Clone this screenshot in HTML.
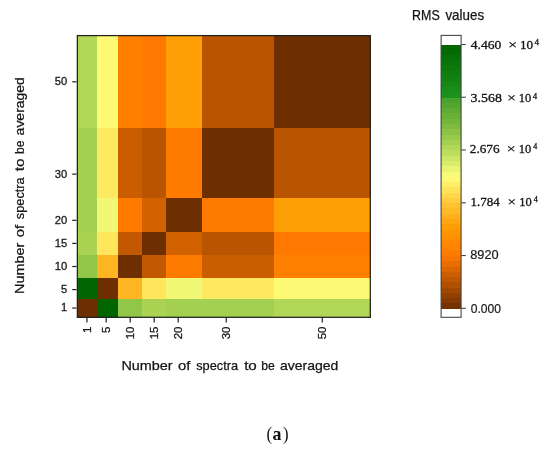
<!DOCTYPE html>
<html><head><meta charset="utf-8"><title>RMS heatmap</title>
<style>html,body{margin:0;padding:0;background:#fff}svg{display:block}</style></head>
<body>
<svg width="550" height="451" viewBox="0 0 550 451">
<rect width="550" height="451" fill="#fff"/>
<g shape-rendering="crispEdges">
<rect x="77.35" y="298.83" width="19.51" height="18.77" fill="#6d2e00"/>
<rect x="77.35" y="278.05" width="19.51" height="21.08" fill="#006400"/>
<rect x="77.35" y="254.96" width="19.51" height="23.39" fill="#91c648"/>
<rect x="77.35" y="231.87" width="19.51" height="23.39" fill="#aad354"/>
<rect x="77.35" y="197.23" width="19.51" height="34.94" fill="#a3d051"/>
<rect x="77.35" y="127.96" width="19.51" height="69.57" fill="#a3d051"/>
<rect x="77.35" y="35.60" width="19.51" height="92.66" fill="#b0d757"/>
<rect x="96.56" y="298.83" width="21.91" height="18.77" fill="#006400"/>
<rect x="96.56" y="278.05" width="21.91" height="21.08" fill="#6d2e00"/>
<rect x="96.56" y="254.96" width="21.91" height="23.39" fill="#ffb522"/>
<rect x="96.56" y="231.87" width="21.91" height="23.39" fill="#ffe65d"/>
<rect x="96.56" y="197.23" width="21.91" height="34.94" fill="#f0f875"/>
<rect x="96.56" y="127.96" width="21.91" height="69.57" fill="#ffe961"/>
<rect x="96.56" y="35.60" width="21.91" height="92.66" fill="#fffa75"/>
<rect x="118.17" y="298.83" width="24.31" height="18.77" fill="#91c648"/>
<rect x="118.17" y="278.05" width="24.31" height="21.08" fill="#ffb522"/>
<rect x="118.17" y="254.96" width="24.31" height="23.39" fill="#6d2e00"/>
<rect x="118.17" y="231.87" width="24.31" height="23.39" fill="#c25900"/>
<rect x="118.17" y="197.23" width="24.31" height="34.94" fill="#ff7b00"/>
<rect x="118.17" y="127.96" width="24.31" height="69.57" fill="#ca5d00"/>
<rect x="118.17" y="35.60" width="24.31" height="92.66" fill="#ff8000"/>
<rect x="142.18" y="298.83" width="24.31" height="18.77" fill="#aad354"/>
<rect x="142.18" y="278.05" width="24.31" height="21.08" fill="#ffe65d"/>
<rect x="142.18" y="254.96" width="24.31" height="23.39" fill="#c25900"/>
<rect x="142.18" y="231.87" width="24.31" height="23.39" fill="#6d2e00"/>
<rect x="142.18" y="197.23" width="24.31" height="34.94" fill="#d26100"/>
<rect x="142.18" y="127.96" width="24.31" height="69.57" fill="#b95400"/>
<rect x="142.18" y="35.60" width="24.31" height="92.66" fill="#ff7800"/>
<rect x="166.20" y="298.83" width="36.32" height="18.77" fill="#a3d051"/>
<rect x="166.20" y="278.05" width="36.32" height="21.08" fill="#f0f875"/>
<rect x="166.20" y="254.96" width="36.32" height="23.39" fill="#ff7b00"/>
<rect x="166.20" y="231.87" width="36.32" height="23.39" fill="#d26100"/>
<rect x="166.20" y="197.23" width="36.32" height="34.94" fill="#6d2e00"/>
<rect x="166.20" y="127.96" width="36.32" height="69.57" fill="#ff7b00"/>
<rect x="166.20" y="35.60" width="36.32" height="92.66" fill="#ff9f08"/>
<rect x="202.21" y="298.83" width="72.34" height="18.77" fill="#a3d051"/>
<rect x="202.21" y="278.05" width="72.34" height="21.08" fill="#ffe961"/>
<rect x="202.21" y="254.96" width="72.34" height="23.39" fill="#ca5d00"/>
<rect x="202.21" y="231.87" width="72.34" height="23.39" fill="#b95400"/>
<rect x="202.21" y="197.23" width="72.34" height="34.94" fill="#ff7b00"/>
<rect x="202.21" y="127.96" width="72.34" height="69.57" fill="#6d2e00"/>
<rect x="202.21" y="35.60" width="72.34" height="92.66" fill="#b95400"/>
<rect x="274.25" y="298.83" width="96.35" height="18.77" fill="#b0d757"/>
<rect x="274.25" y="278.05" width="96.35" height="21.08" fill="#fffa75"/>
<rect x="274.25" y="254.96" width="96.35" height="23.39" fill="#ff8000"/>
<rect x="274.25" y="231.87" width="96.35" height="23.39" fill="#ff7800"/>
<rect x="274.25" y="197.23" width="96.35" height="34.94" fill="#ff9f08"/>
<rect x="274.25" y="127.96" width="96.35" height="69.57" fill="#b95400"/>
<rect x="274.25" y="35.60" width="96.35" height="92.66" fill="#6d2e00"/>
</g>
<rect x="77.35" y="35.60" width="292.95" height="281.70" fill="none" stroke="#222" stroke-width="1.25"/>
<g stroke="#222" stroke-width="1.2">
<line x1="86.95" y1="317.9" x2="86.95" y2="322.5"/>
<line x1="72.2" y1="308.06" x2="76.5" y2="308.06"/>
<line x1="106.16" y1="317.9" x2="106.16" y2="322.5"/>
<line x1="72.2" y1="289.59" x2="76.5" y2="289.59"/>
<line x1="130.18" y1="317.9" x2="130.18" y2="322.5"/>
<line x1="72.2" y1="266.50" x2="76.5" y2="266.50"/>
<line x1="154.19" y1="317.9" x2="154.19" y2="322.5"/>
<line x1="72.2" y1="243.41" x2="76.5" y2="243.41"/>
<line x1="178.20" y1="317.9" x2="178.20" y2="322.5"/>
<line x1="72.2" y1="220.32" x2="76.5" y2="220.32"/>
<line x1="226.23" y1="317.9" x2="226.23" y2="322.5"/>
<line x1="72.2" y1="174.14" x2="76.5" y2="174.14"/>
<line x1="322.28" y1="317.9" x2="322.28" y2="322.5"/>
<line x1="72.2" y1="81.78" x2="76.5" y2="81.78"/>
</g>
<g font-family="'Liberation Sans', Arial, sans-serif" font-size="11.2" fill="#1a1a1a" stroke="#1a1a1a" stroke-width="0.3">
<text x="67.3" y="311.46" text-anchor="end">1</text>
<text transform="translate(90.85,326.5) rotate(-90)" text-anchor="end" font-size="11.5">1</text>
<text x="67.3" y="292.99" text-anchor="end">5</text>
<text transform="translate(110.06,326.5) rotate(-90)" text-anchor="end" font-size="11.5">5</text>
<text x="67.3" y="269.90" text-anchor="end">10</text>
<text transform="translate(134.08,326.5) rotate(-90)" text-anchor="end" font-size="11.5">10</text>
<text x="67.3" y="246.81" text-anchor="end">15</text>
<text transform="translate(158.09,326.5) rotate(-90)" text-anchor="end" font-size="11.5">15</text>
<text x="67.3" y="223.72" text-anchor="end">20</text>
<text transform="translate(182.10,326.5) rotate(-90)" text-anchor="end" font-size="11.5">20</text>
<text x="67.3" y="177.54" text-anchor="end">30</text>
<text transform="translate(230.13,326.5) rotate(-90)" text-anchor="end" font-size="11.5">30</text>
<text x="67.3" y="85.18" text-anchor="end">50</text>
<text transform="translate(326.18,326.5) rotate(-90)" text-anchor="end" font-size="11.5">50</text>
</g>
<g font-family="'Liberation Sans', Arial, sans-serif" font-size="13.2" fill="#141414" stroke="#141414" stroke-width="0.25">
<text x="121.42" y="369.5" textLength="51.22" lengthAdjust="spacingAndGlyphs">Number</text>
<text x="178.08" y="369.5" textLength="12.40" lengthAdjust="spacingAndGlyphs">of</text>
<text x="196.24" y="369.5" textLength="41.86" lengthAdjust="spacingAndGlyphs">spectra</text>
<text x="244.17" y="369.5" textLength="12.67" lengthAdjust="spacingAndGlyphs">to</text>
<text x="261.32" y="369.5" textLength="13.52" lengthAdjust="spacingAndGlyphs">be</text>
<text x="280.01" y="369.5" textLength="58.29" lengthAdjust="spacingAndGlyphs">averaged</text>
<text transform="translate(23.6,293.98) rotate(-90)" textLength="51.22" lengthAdjust="spacingAndGlyphs">Number</text>
<text transform="translate(23.6,237.32) rotate(-90)" textLength="12.40" lengthAdjust="spacingAndGlyphs">of</text>
<text transform="translate(23.6,219.16) rotate(-90)" textLength="41.86" lengthAdjust="spacingAndGlyphs">spectra</text>
<text transform="translate(23.6,171.23) rotate(-90)" textLength="12.67" lengthAdjust="spacingAndGlyphs">to</text>
<text transform="translate(23.6,154.08) rotate(-90)" textLength="13.52" lengthAdjust="spacingAndGlyphs">be</text>
<text transform="translate(23.6,135.39) rotate(-90)" textLength="58.29" lengthAdjust="spacingAndGlyphs">averaged</text>
<text x="412.08" y="19.8" font-size="13.8" textLength="27.69" lengthAdjust="spacingAndGlyphs">RMS</text>
<text x="445.45" y="19.8" font-size="13.8" textLength="38.63" lengthAdjust="spacingAndGlyphs">values</text>
</g>
<g shape-rendering="crispEdges">
<rect x="441" y="303.02" width="20.2" height="5.68" fill="#743200"/>
<rect x="441" y="297.75" width="20.2" height="5.68" fill="#833900"/>
<rect x="441" y="292.47" width="20.2" height="5.68" fill="#924000"/>
<rect x="441" y="287.20" width="20.2" height="5.68" fill="#a04800"/>
<rect x="441" y="281.92" width="20.2" height="5.68" fill="#af4f00"/>
<rect x="441" y="276.64" width="20.2" height="5.68" fill="#bd5700"/>
<rect x="441" y="271.37" width="20.2" height="5.68" fill="#cc5e00"/>
<rect x="441" y="266.09" width="20.2" height="5.68" fill="#da6600"/>
<rect x="441" y="260.82" width="20.2" height="5.68" fill="#e96d00"/>
<rect x="441" y="255.54" width="20.2" height="5.68" fill="#f87400"/>
<rect x="441" y="250.26" width="20.2" height="5.68" fill="#ff7b00"/>
<rect x="441" y="244.99" width="20.2" height="5.68" fill="#ff8200"/>
<rect x="441" y="239.71" width="20.2" height="5.68" fill="#ff8800"/>
<rect x="441" y="234.44" width="20.2" height="5.68" fill="#ff8e00"/>
<rect x="441" y="229.16" width="20.2" height="5.68" fill="#ff9500"/>
<rect x="441" y="223.88" width="20.2" height="5.68" fill="#ff9d06"/>
<rect x="441" y="218.61" width="20.2" height="5.68" fill="#ffa611"/>
<rect x="441" y="213.33" width="20.2" height="5.68" fill="#ffb01c"/>
<rect x="441" y="208.06" width="20.2" height="5.68" fill="#ffba27"/>
<rect x="441" y="202.78" width="20.2" height="5.68" fill="#ffc332"/>
<rect x="441" y="197.50" width="20.2" height="5.68" fill="#ffcd3f"/>
<rect x="441" y="192.23" width="20.2" height="5.68" fill="#ffd84c"/>
<rect x="441" y="186.95" width="20.2" height="5.68" fill="#ffe45a"/>
<rect x="441" y="181.68" width="20.2" height="5.68" fill="#ffee68"/>
<rect x="441" y="176.40" width="20.2" height="5.68" fill="#fffa75"/>
<rect x="441" y="171.12" width="20.2" height="5.68" fill="#f8fb79"/>
<rect x="441" y="165.85" width="20.2" height="5.68" fill="#e9f472"/>
<rect x="441" y="160.57" width="20.2" height="5.68" fill="#daec6b"/>
<rect x="441" y="155.30" width="20.2" height="5.68" fill="#cce564"/>
<rect x="441" y="150.02" width="20.2" height="5.68" fill="#bdde5d"/>
<rect x="441" y="144.74" width="20.2" height="5.68" fill="#b0d757"/>
<rect x="441" y="139.47" width="20.2" height="5.68" fill="#a3d051"/>
<rect x="441" y="134.19" width="20.2" height="5.68" fill="#97c94b"/>
<rect x="441" y="128.92" width="20.2" height="5.68" fill="#8bc245"/>
<rect x="441" y="123.64" width="20.2" height="5.68" fill="#7ebb3f"/>
<rect x="441" y="118.36" width="20.2" height="5.68" fill="#73b63a"/>
<rect x="441" y="113.09" width="20.2" height="5.68" fill="#68b136"/>
<rect x="441" y="107.81" width="20.2" height="5.68" fill="#5eac32"/>
<rect x="441" y="102.54" width="20.2" height="5.68" fill="#54a72e"/>
<rect x="441" y="97.26" width="20.2" height="5.68" fill="#49a22a"/>
<rect x="441" y="91.98" width="20.2" height="5.68" fill="#1b921b"/>
<rect x="441" y="86.71" width="20.2" height="5.68" fill="#188d18"/>
<rect x="441" y="81.43" width="20.2" height="5.68" fill="#158815"/>
<rect x="441" y="76.16" width="20.2" height="5.68" fill="#128312"/>
<rect x="441" y="70.88" width="20.2" height="5.68" fill="#0f7e0f"/>
<rect x="441" y="65.60" width="20.2" height="5.68" fill="#0d7a0d"/>
<rect x="441" y="60.33" width="20.2" height="5.68" fill="#0a750a"/>
<rect x="441" y="55.05" width="20.2" height="5.68" fill="#077007"/>
<rect x="441" y="49.78" width="20.2" height="5.68" fill="#046b04"/>
<rect x="441" y="44.50" width="20.2" height="5.68" fill="#016601"/>
</g>
<rect x="441.1" y="35.4" width="20.0" height="281.9" fill="none" stroke="#484848" stroke-width="1.1"/>
<g stroke="#444" stroke-width="1.1">
<line x1="461.3" y1="308.30" x2="465.8" y2="308.30"/>
<line x1="461.3" y1="255.54" x2="465.8" y2="255.54"/>
<line x1="461.3" y1="202.78" x2="465.8" y2="202.78"/>
<line x1="461.3" y1="150.02" x2="465.8" y2="150.02"/>
<line x1="461.3" y1="97.26" x2="465.8" y2="97.26"/>
<line x1="461.3" y1="44.50" x2="465.8" y2="44.50"/>
</g>
<g font-family="'Liberation Serif', serif" font-size="12" fill="#151515" stroke="#151515" stroke-width="0.3">
<text x="470.83" y="48.70" textLength="30.58" lengthAdjust="spacingAndGlyphs">4.460</text>
<text x="508.26" y="48.70" textLength="8.87" lengthAdjust="spacingAndGlyphs">×</text>
<text x="519.94" y="48.70" textLength="13.16" lengthAdjust="spacingAndGlyphs">10</text>
<text x="534.52" y="45.00" font-size="8.5" textLength="4.52" lengthAdjust="spacingAndGlyphs">4</text>
<text x="470.64" y="102.40" textLength="31.19" lengthAdjust="spacingAndGlyphs">3.568</text>
<text x="507.29" y="102.40" textLength="8.60" lengthAdjust="spacingAndGlyphs">×</text>
<text x="518.70" y="102.40" textLength="12.47" lengthAdjust="spacingAndGlyphs">10</text>
<text x="532.73" y="98.70" font-size="8.5" textLength="4.41" lengthAdjust="spacingAndGlyphs">4</text>
<text x="469.82" y="152.70" textLength="29.78" lengthAdjust="spacingAndGlyphs">2.676</text>
<text x="506.76" y="152.70" textLength="8.87" lengthAdjust="spacingAndGlyphs">×</text>
<text x="518.80" y="152.70" textLength="12.47" lengthAdjust="spacingAndGlyphs">10</text>
<text x="533.14" y="149.00" font-size="8.5" textLength="3.98" lengthAdjust="spacingAndGlyphs">4</text>
<text x="470.55" y="206.00" textLength="29.35" lengthAdjust="spacingAndGlyphs">1.784</text>
<text x="507.61" y="206.00" textLength="8.46" lengthAdjust="spacingAndGlyphs">×</text>
<text x="519.30" y="206.00" textLength="12.47" lengthAdjust="spacingAndGlyphs">10</text>
<text x="533.74" y="202.30" font-size="8.5" textLength="4.09" lengthAdjust="spacingAndGlyphs">4</text>
</g>
<g font-family="'Liberation Sans', Arial, sans-serif" font-size="11.9" fill="#1a1a1a" stroke="#1a1a1a" stroke-width="0.2">
<text x="470.25" y="259.10" textLength="28.35" lengthAdjust="spacingAndGlyphs">8920</text>
<text x="470.73" y="312.60" textLength="30.24" lengthAdjust="spacingAndGlyphs">0.000</text>
</g>
<text x="266.46" y="440.1" font-family="'Liberation Serif', serif" font-size="19.2" font-weight="normal" fill="#111" textLength="5.58" lengthAdjust="spacingAndGlyphs">(</text>
<text x="272.62" y="439.5" font-family="'Liberation Serif', serif" font-size="19.5" font-weight="bold" fill="#111" textLength="8.95" lengthAdjust="spacingAndGlyphs">a</text>
<text x="283.06" y="440.1" font-family="'Liberation Serif', serif" font-size="19.2" font-weight="normal" fill="#111" textLength="5.58" lengthAdjust="spacingAndGlyphs">)</text>
</svg>
</body></html>
